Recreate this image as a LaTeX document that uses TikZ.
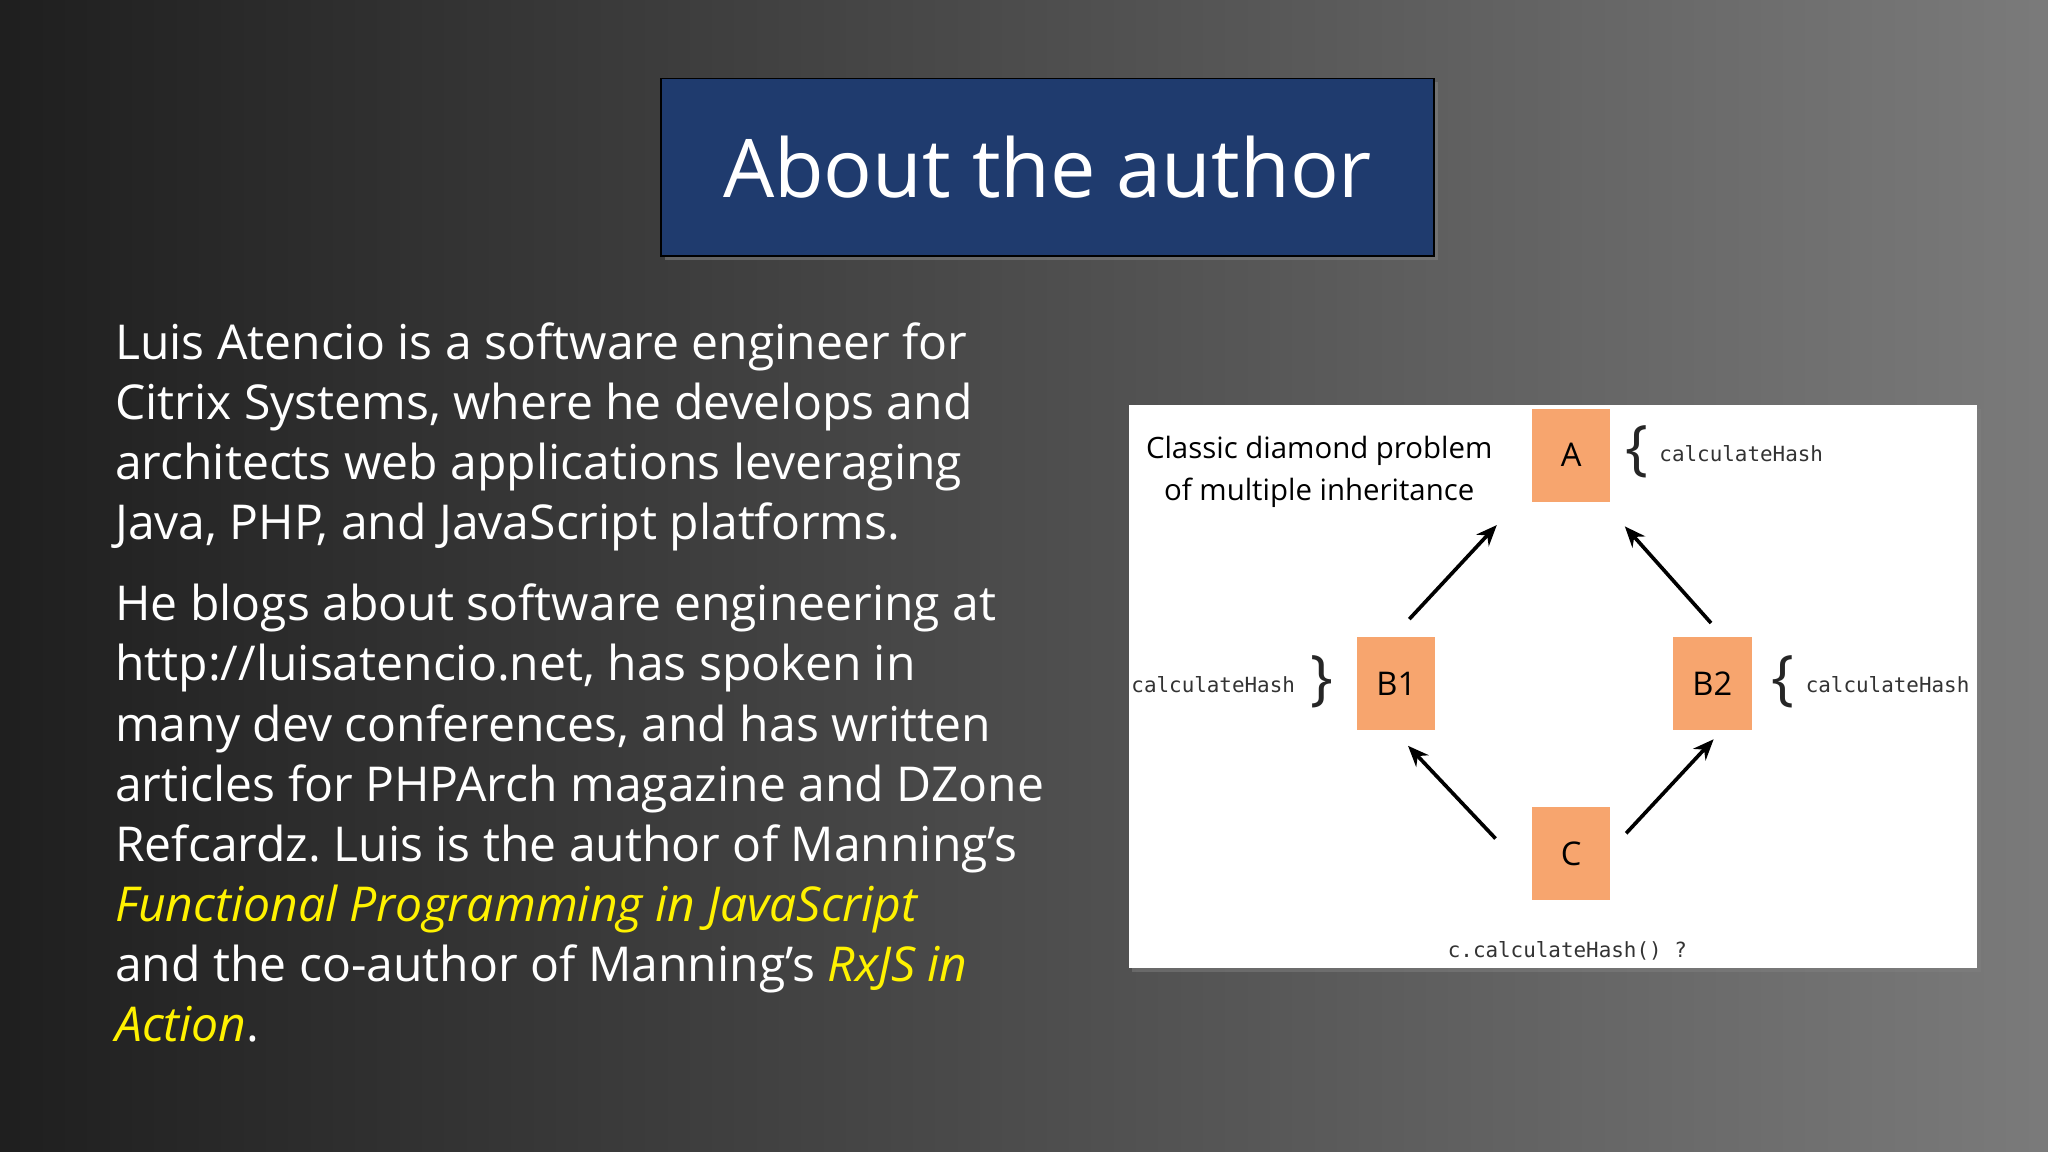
\documentclass[tikz,border=0pt]{standalone}
\usepackage{fontspec}
\setmainfont{Open Sans}
\setmonofont{DejaVu Sans Mono}
\usetikzlibrary{shadows,arrows.meta}
\definecolor{titleblue}{HTML}{1F3B6E}
\definecolor{boxor}{HTML}{F7A56E}
\definecolor{hl}{HTML}{FFF200}
\frenchspacing
\tikzset{
 cls/.style={fill=boxor,minimum width=60pt,minimum height=71pt,inner sep=0pt,font=\fontsize{25}{30}\selectfont},
 arr/.style={-{Stealth[length=16pt,width=13pt]},line width=2.8pt},
 mono/.style={font=\ttfamily\fontsize{16}{18}\selectfont,text=black!80},
 brace/.style={font=\fontsize{46}{50}\selectfont,text=black!85},
 bodytext/.style={anchor=north west,align=left,text=white,font=\fontsize{36.8}{46}\selectfont,inner sep=0pt}
}
\begin{document}
\begin{tikzpicture}[x=1pt,y=-1pt]
\shade[left color=black!88,right color=black!52] (0,0) rectangle (1568,882);
\useasboundingbox (0,0) rectangle (1568,882);
\node (title)[draw=black,line width=1pt,fill=titleblue,drop shadow={opacity=0.6,shadow xshift=3pt,shadow yshift=-3pt},minimum width=592pt,minimum height=136pt,text=white,font=\fontsize{62}{66}\selectfont] at (802,128) {About the author};
\node (body)[bodytext] at (88,247) {Luis Atencio is a software engineer for\\Citrix Systems, where he develops and\\architects web applications leveraging\\Java, PHP, and JavaScript platforms.};
\node (body2)[bodytext] at (88,447) {He blogs about software engineering at\\http://luisatencio.net, has spoken in\\many dev conferences, and has written\\articles for PHPArch magazine and DZone\\Refcardz. Luis is the author of Manning’s\\\textcolor{hl}{\itshape Functional Programming in JavaScript}\\and the co-author of Manning’s \textcolor{hl}{\itshape RxJS in}\\\textcolor{hl}{\itshape Action}.};
\node (panel)[fill=white,drop shadow={opacity=0.5,shadow xshift=3pt,shadow yshift=-3pt},minimum width=650pt,minimum height=431pt,inner sep=0pt] at (1189,525.5) {};
\node (A)[cls] at (1203,348.5) {A};
\node (B1)[cls] at (1069,523.5) {B1};
\node (B2)[cls] at (1311,523.5) {B2};
\node (C)[cls] at (1203,653.5) {C};
\node (cap)[align=center,font=\fontsize{22.5}{32}\selectfont] at (1010,361) {Classic diamond problem\\of multiple inheritance};
\node (bA)[brace] at (1253,346) {\{};
\node (tA)[mono,anchor=west] at (1267,347) {calculateHash};
\node (bB1)[brace] at (1012,522) {\}};
\node (tB1)[mono,anchor=east] at (995,524) {calculateHash};
\node (bB2)[brace] at (1365,522) {\{};
\node (tB2)[mono,anchor=west] at (1379,524) {calculateHash};
\node (q)[mono] at (1200,728) {c.calculateHash() ?};
\coordinate (a1) at (1079,474); \coordinate (a2) at (1146,402);
\coordinate (b1) at (1310,477); \coordinate (b2) at (1244,403);
\coordinate (c1) at (1145,642); \coordinate (c2) at (1078,571);
\coordinate (d1) at (1245,638); \coordinate (d2) at (1312,566);
\draw[arr] (a1) -- (a2);
\draw[arr] (b1) -- (b2);
\draw[arr] (c1) -- (c2);
\draw[arr] (d1) -- (d2);
\end{tikzpicture}
\end{document}
